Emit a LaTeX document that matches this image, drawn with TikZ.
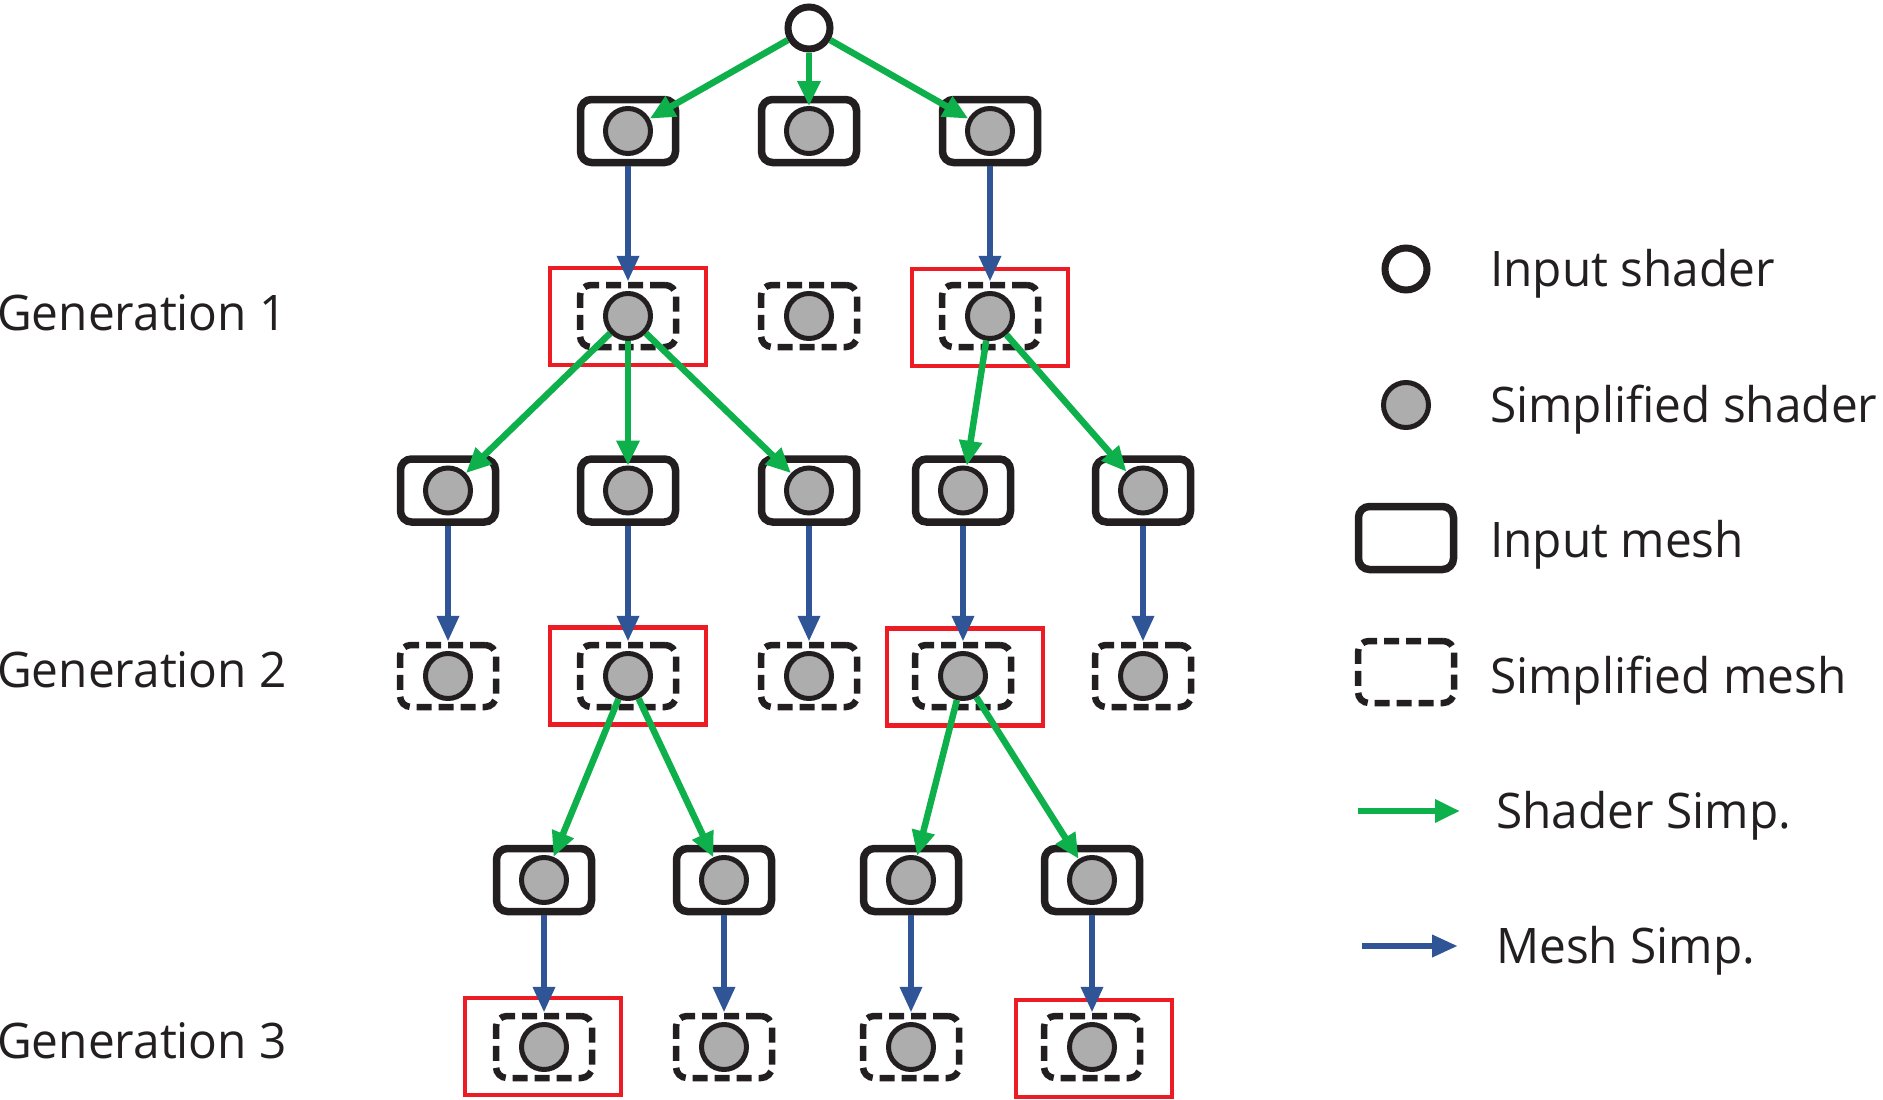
\documentclass[tikz,border=0pt]{standalone}
\usepackage{fontspec}
\setmainfont[FakeStretch=0.975]{Open Sans}
\usetikzlibrary{arrows.meta}
\definecolor{inkblack}{HTML}{231F20}
\definecolor{shgray}{HTML}{ADADAD}
\definecolor{simpgreen}{HTML}{0DB04B}
\definecolor{simpblue}{HTML}{2F5597}
\definecolor{selred}{HTML}{ED1C24}
\tikzset{
  inmesh/.style={draw=inkblack, line width=7.5pt, rounded corners=11pt, minimum width=95pt, minimum height=63pt, inner sep=0pt},
  simpmesh/.style={draw=inkblack, line width=6.5pt, dash pattern=on 15pt off 7pt, rounded corners=11pt, minimum width=96pt, minimum height=62pt, inner sep=0pt},
  simpshader/.style={circle, draw=inkblack, fill=shgray, line width=5pt, minimum size=45pt, inner sep=0pt},
  inshader/.style={circle, draw=inkblack, fill=white, line width=7pt, minimum size=42pt, inner sep=0pt},
  selbox/.style={draw=selred, line width=4.5pt, minimum width=156pt, minimum height=97pt, inner sep=0pt},
  shaderarrow/.style={draw=simpgreen, line width=6.5pt, -{Triangle[length=25pt,width=22pt]}},
  mesharrow/.style={draw=simpblue, line width=6.5pt, -{Triangle[length=26pt,width=21pt]}},
  lbl/.style={font=\fontsize{49}{58}\selectfont, text=inkblack, inner sep=0pt, anchor=base west},
}
\begin{document}
\begin{tikzpicture}[x=1pt,y=-1pt]
\useasboundingbox (0,0) rectangle (1883,1100);
% selection boxes
\node[selbox] (sel1a) at (628,316.5) {};
\node[selbox] (sel1c) at (990,317.5) {};
\node[selbox] (sel2b) at (628,676) {};
\node[selbox] (sel2d) at (965,677) {};
\node[selbox] (sel3a) at (543,1046.5) {};
\node[selbox] (sel3d) at (1094,1048.5) {};
% input shader
\node[inshader] (top) at (809,28) {};
% input meshes
\foreach \n/\x/\y in {r1a/628/131, r1b/809/131, r1c/990/131,
  r3a/448/490.5, r3b/628/490.5, r3c/809/490.5, r3d/963/490.5, r3e/1143/490.5,
  r5a/544/880, r5b/724/880, r5c/911/880, r5d/1092/880}{
  \node[inmesh] (\n) at (\x,\y) {};
  \node[simpshader] (s\n) at (\x,\y) {};
}
% simplified meshes
\foreach \n/\x/\y in {g1a/628/316, g1b/809/316, g1c/990/316,
  g2a/448/676, g2b/628/676, g2c/809/676, g2d/963/676, g2e/1143/676,
  g3a/544/1047, g3b/724/1047, g3c/911/1047, g3d/1092/1047}{
  \node[simpmesh] (\n) at (\x,\y) {};
  \node[simpshader] (s\n) at (\x,\y) {};
}
% mesh simplification arrows
\draw[mesharrow] (r1a) -- (g1a);
\draw[mesharrow] (r1c) -- (g1c);
\foreach \k in {a,b,c,d,e}{\draw[mesharrow] (r3\k) -- (g2\k);}
\foreach \k in {a,b,c,d}{\draw[mesharrow] (r5\k) -- (g3\k);}
% shader simplification arrows
\draw[shaderarrow] (top) -- (sr1a);
\draw[shaderarrow] (top) -- (sr1b);
\draw[shaderarrow] (top) -- (sr1c);
\draw[shaderarrow] (sg1a) -- (sr3a);
\draw[shaderarrow] (sg1a) -- (sr3b);
\draw[shaderarrow] (sg1a) -- (sr3c);
\draw[shaderarrow] (sg1c) -- (sr3d);
\draw[shaderarrow] (sg1c) -- (sr3e);
\draw[shaderarrow] (sg2b) -- (sr5a);
\draw[shaderarrow] (sg2b) -- (sr5b);
\draw[shaderarrow] (sg2d) -- (sr5c);
\draw[shaderarrow] (sg2d) -- (sr5d);
% generation labels
\node[lbl] (gen1) at (-3,330) {Generation 1};
\node[lbl] (gen2) at (-3,687.5) {Generation 2};
\node[lbl] (gen3) at (-3,1058.5) {Generation 3};
% legend
\node[inshader] (lin) at (1406,269) {};
\node[simpshader] (lsimp) at (1406,405) {};
\node[inmesh] (lmesh) at (1406,538) {};
\node[simpmesh] (lsmesh) at (1406,672) {};
\coordinate (lga) at (1358,811);
\coordinate (lgb) at (1460,811);
\draw[shaderarrow] (lga) -- (lgb);
\coordinate (lba) at (1362,946);
\coordinate (lbb) at (1458,946);
\draw[mesharrow] (lba) -- (lbb);
\node[lbl] (tin) at (1490,286) {Input shader};
\node[lbl] (tsimp) at (1490,422) {Simplified shader};
\node[lbl] (tmesh) at (1490,557) {Input mesh};
\node[lbl] (tsmesh) at (1490,693) {Simplified mesh};
\node[lbl] (tga) at (1496,828) {Shader Simp.};
\node[lbl] (tba) at (1496,963) {Mesh Simp.};
\end{tikzpicture}
\end{document}
